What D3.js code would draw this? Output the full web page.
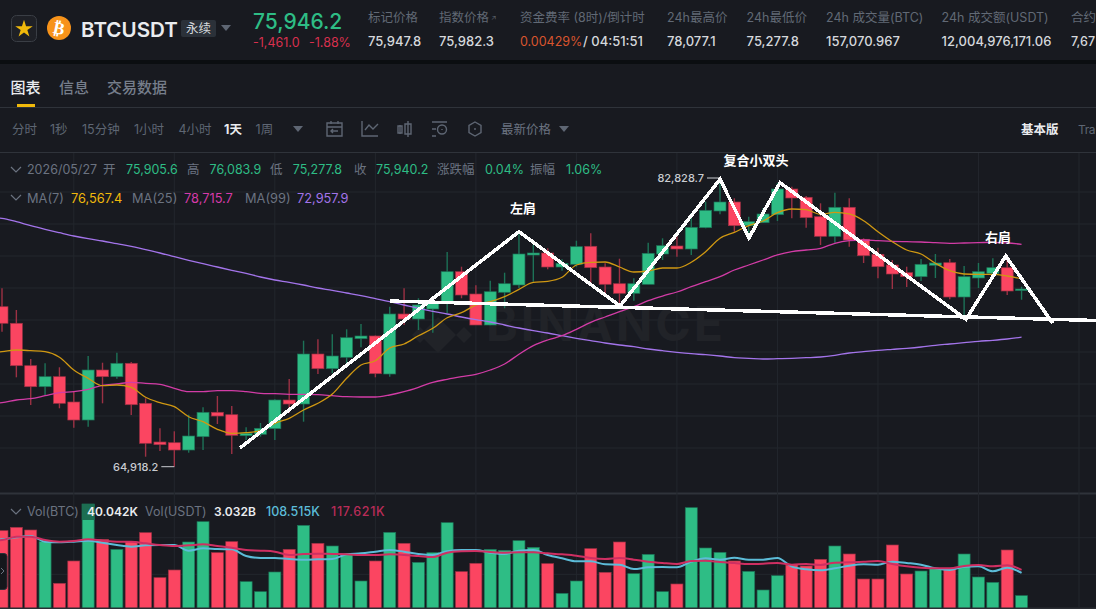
<!DOCTYPE html>
<html>
<head>
<meta charset="utf-8">
<script src="https://cdn.jsdelivr.net/npm/d3@7"></script>
<style>
  html, body { margin: 0; padding: 0; background: #181a20; overflow: hidden; }
  svg { display: block; font-family: Inter, "Noto Sans CJK SC", sans-serif; }
</style>
</head>
<body>
<div id="chart"></div>
<script>
// Candles
const opens = [74844,73815,71184,69881,70502,68932,67815,70917,70502,71333,68851,66450,66407,65954,66779,68293,68144,66841,66928,67276,69056,68808,71910,70998,71705,72859,73027,70669,74392,74081,74702,75074,77016,75632,73709,75738,76191,78052,78176,77307,77475,78592,77307,76271,75676,76234,78114,78610,78424,79746,80782,81340,79870,80056,80552,82146,81631,80428,79212,81011,79026,78095,77432,76954,76706,77413,77574,75446,76625,76916,77264,75905.6];
const highs = [75986,74640,71600,71333,71085,69571,71786,71370,71991,71414,69162,67300,67114,68144,68603,69304,68684,67362,67629,69100,70359,72735,72822,73132,73442,73771,73060,74844,75986,75366,75198,78238,77326,76172,76457,76954,79497,78672,78468,77785,78939,79398,77537,77822,76606,78815,79088,79231,80658,81359,82828.7,81570,80428,80968,82519,82289,81712,81259,81917,81570,79088,78505,77742,77326,77804,78114,77804,77369,77556,77847,78008,76083.9];
const lows = [73293,70464,68746,69366,68541,67338,67400,68851,70378,68125,65538,65892,64918.2,65787,65954,67567,65706,66574,66779,66574,68268,67710,70669,70713,71333,72326,70464,70502,73709,73399,73231,74454,75366,73709,73691,74745,76005,76395,77165,77078,77326,76296,75570,74844,75217,76234,77742,77946,78052,79708,80577,79497,79417,80037,80161,80329,79746,78672,78815,78567,77556,76606,75943,76067,76439,76625,75303,74224,76005,76916,75570,75277.8];
const closes = [73815,71184,69881,70502,68851,67815,70917,70502,71333,68764,66370,66283,65954,66823,68293,68063,66866,66990,67300,69056,68808,71910,70998,71786,72921,73027,70688,74392,74081,74950,75136,77016,75570,73709,75775,76271,78114,78176,77307,77537,78567,77264,76234,75676,76271,78157,78629,78424,79770,80825,81340,79870,80118,80596,82146,81588,80366,79212,81011,78982,78008,77326,76873,76706,77475,77556,75446,76706,77016,77264,75818,75940.2];

// Moving averages on price, first value belongs to the candle just off the left edge
const ma7 = [71991,72053,72158,72115,72053,71705,70917,70402,69943,69987,69844,69224,68889,68640,68020,67710,67238,66990,67027,67151,67611,67921,68436,68851,69428,70402,71228,71494,72282,72530,73045,73504,74162,74472,74950,75155,75465,75924,76358,76420,76668,77432,77599,77618,77307,76997,77059,77245,77245,77599,78257,79088,79460,79870,80161,80676,80906,80862,80577,80701,80596,80180,79497,78877,78362,78114,77537,77078,76873,76854,76854,76749,76567.4];
const ma25 = [68860,68889,69056,69137,69323,69509,69571,69720,69968,70049,70154,70092,70030,69782,69571,69571,69633,69633,69571,69472,69447,69410,69410,69385,69323,69261,69242,69242,69366,69571,69844,70154,70340,70502,70651,70917,71290,71891,72425,72778,73045,73442,73877,74205,74534,74844,75217,75508,75756,76085,76395,76706,77122,77432,77742,78052,78257,78362,78468,78778,78939,78982,78939,78902,78877,78859,78815,78778,78796,78815,78840,78796,78715.7];
const ma99 = [80380,80329,80118,79870,79646,79435,79231,79063,78920,78753,78592,78381,78176,77946,77723,77512,77307,77103,76916,76687,76501,76358,76191,76005,75862,75695,75527,75341,75155,74950,74745,74559,74392,74205,74038,73895,73709,73523,73355,73213,73045,72884,72735,72592,72468,72363,72220,72115,72015,71929,71866,71786,71680,71643,71600,71618,71643,71680,71724,71829,71972,72053,72139,72201,72263,72344,72450,72530,72611,72698,72760,72841,72957.9];

// Volume in thousands of BTC
const volumes = [235,245,237,202,77,144,315,209,179,202,229,94,117,201,262,169,202,82,52,111,179,251,197,189,167,84,144,230,197,140,169,259,112,137,179,176,205,185,136,47,84,181,110,201,106,164,52,75,304,183,170,144,113,57,100,132,129,149,189,165,90,90,192,105,114,122,122,165,96,80,177,40.042];
const volMaBlue = [208,209,215,219,202,200,202,205,199,192,187,191,192,192,175,182,180,179,159,153,153,150,148,149,150,164,167,172,177,172,165,162,173,177,177,169,165,175,177,162,152,143,143,134,133,120,125,126,125,142,152,148,154,148,148,153,127,119,116,122,130,134,133,142,138,133,122,117,127,128,113,124,108.515];
const volMaPink = [205,207,217,217,207,202,204,209,205,202,202,197,192,189,191,194,189,184,177,175,172,162,165,166,165,164,162,162,164,162,159,156,169,173,174,171,169,170,170,167,164,160,153,150,153,148,142,138,135,144,145,141,138,135,136,138,133,135,132,139,140,142,144,135,128,124,122,122,129,132,128,131,117.621];

// Hand drawn pattern lines: [candle index, price]
const patternLine = [[16.57,66078],[36,79497],[43.04,74888],[50,82748],[52.02,79125],[54.18,82537],[67.13,74063],[69.9,77990],[73.17,73815]];
const neckLine = [[27.02,75198],[76.18,73988]];
const patternLabels = [["左肩",36.28,80676],["复合小双头",52.5,83635],["右肩",69.36,78877]];

// Header quote table
const quoteLabels = ["标记价格","指数价格","资金费率 (8时)/倒计时","24h最高价","24h最低价","24h 成交量(BTC)","24h 成交额(USDT)","合约"];
const quoteValues = ["75,947.8","75,982.3","","78,077.1","75,277.8","157,070.967","12,004,976,171.06","7,67"];
const quoteX = [368,439,520,667,746.6,826,941.6,1071];
const tabs = [["图表",10.5],["信息",59],["交易数据",107]];
const intervals = [["分时",12],["1秒",50],["15分钟",82],["1小时",134],["4小时",178.5],["1天",224],["1周",255.6]];

const width = 1096, height = 609;
const GREEN = "#2ebd85", RED = "#fb4561", GREEN_DIM = "#1d7257", RED_DIM = "#9c3144", GRID = "#23272d", LINE = "#2f333a";
const GREY = "#6b7380";

const svg = d3.select("#chart").append("svg").attr("width", width).attr("height", height);

const x = d3.scaleLinear().domain([0, 71]).range([2, 2 + 71 * 14.36]);
const y = d3.scaleLinear().domain([64918.2, 82828.7]).range([466.7, 178]);
const yVol = d3.scaleLinear().domain([0, 357]).range([609, 490]);

function label(text, px, py, color, size, weight, anchor) {
  return svg.append("text")
    .attr("x", px).attr("y", py)
    .attr("fill", color)
    .attr("font-size", size || 13)
    .attr("font-weight", weight || 400)
    .attr("text-anchor", anchor || "start")
    .text(text);
}

function triangle(cx, cy) {
  svg.append("path").attr("d", `M${cx - 5},${cy - 3}L${cx + 5},${cy - 3}L${cx},${cy + 3}Z`).attr("fill", "#5e6673");
}

function chevron(cx, cy) {
  svg.append("path").attr("d", `M${cx - 5},${cy - 2}L${cx},${cy + 3}L${cx + 5},${cy - 2}`)
    .attr("fill", "none").attr("stroke", "#6b7380").attr("stroke-width", 1.2);
}

// page bands
svg.append("rect").attr("width", width).attr("height", height).attr("fill", "#181a20");
svg.append("rect").attr("y", 60).attr("width", width).attr("height", 4).attr("fill", "#0b0e11");
[107, 152, 493].forEach((ly) => {
  svg.append("line").attr("x1", 0).attr("x2", width).attr("y1", ly + 0.5).attr("y2", ly + 0.5)
    .attr("stroke", LINE).attr("stroke-width", ly === 493 ? 2 : 1);
});

// grid
svg.append("g").selectAll("line").data(d3.range(5, 76, 7)).enter().append("line")
  .attr("x1", (d) => x(d)).attr("x2", (d) => x(d)).attr("y1", 153).attr("y2", 607)
  .attr("stroke", GRID);
svg.append("g").selectAll("line").data(d3.range(192, 480, 32).concat([537.7, 574.3])).enter().append("line")
  .attr("x1", 0).attr("x2", width).attr("y1", (d) => d).attr("y2", (d) => d)
  .attr("stroke", GRID);

// watermark
const mark = svg.append("g").attr("fill", "#212328");
mark.append("path").attr("d", "M438,317L456,335L438,353L420,335ZM412,335L420,327L428,335L420,343ZM456,335L464,327L472,335L464,343Z");
mark.append("text").attr("x", 486).attr("y", 341).attr("font-size", 48).attr("font-weight", 700).attr("letter-spacing", 3).text("BINANCE");

// candles
const candles = d3.range(opens.length);
const candleG = svg.append("g");
candleG.selectAll("line").data(candles).enter().append("line")
  .attr("x1", (i) => x(i)).attr("x2", (i) => x(i))
  .attr("y1", (i) => y(highs[i])).attr("y2", (i) => y(lows[i]))
  .attr("stroke", (i) => (closes[i] >= opens[i] ? GREEN_DIM : RED_DIM))
  .attr("stroke-width", 1.4);
candleG.selectAll("rect").data(candles).enter().append("rect")
  .attr("x", (i) => x(i) - 6)
  .attr("width", 12)
  .attr("y", (i) => y(Math.max(opens[i], closes[i])))
  .attr("height", (i) => Math.max(1.5, Math.abs(y(opens[i]) - y(closes[i]))))
  .attr("fill", (i) => (closes[i] >= opens[i] ? GREEN : RED))
  .attr("stroke", (i) => (closes[i] >= opens[i] ? GREEN_DIM : RED_DIM))
  .attr("stroke-width", 0.7);

// moving averages
const priceLine = d3.line().x((d, i) => x(i - 1)).y((d) => y(d)).curve(d3.curveMonotoneX);
[[ma99, "#a374ea"], [ma25, "#d23ca6"], [ma7, "#d09812"]].forEach(([series, color]) => {
  svg.append("path").attr("d", priceLine(series)).attr("fill", "none").attr("stroke", color).attr("stroke-width", 1.3);
});

// volume bars
const volG = svg.append("g");
volG.selectAll("rect").data(candles).enter().append("rect")
  .attr("x", (i) => x(i) - 6)
  .attr("width", 12)
  .attr("y", (i) => yVol(volumes[i]))
  .attr("height", (i) => yVol(0) - yVol(volumes[i]))
  .attr("fill", (i) => (closes[i] >= opens[i] ? GREEN : RED))
  .attr("stroke", (i) => (closes[i] >= opens[i] ? GREEN_DIM : RED_DIM))
  .attr("stroke-width", 0.7);
svg.append("rect").attr("x", x(6) - 6.4).attr("y", yVol(315)).attr("width", 12.8).attr("height", 16)
  .attr("fill", "#1c6e52");
const volLine = d3.line().x((d, i) => x(i - 1)).y((d) => yVol(d)).curve(d3.curveMonotoneX);
[[volMaBlue, "#5cbcd8"], [volMaPink, "#cf2f62"]].forEach(([series, color]) => {
  svg.append("path").attr("d", volLine(series)).attr("fill", "none").attr("stroke", color).attr("stroke-width", 2);
});
svg.append("rect").attr("y", 607.5).attr("width", width).attr("height", 1.5).attr("fill", "#2a2d33");

// high / low marks
const hiIdx = d3.maxIndex(highs), loIdx = d3.minIndex(lows);
[[hiIdx, highs[hiIdx], "82,828.7"], [loIdx, lows[loIdx], "64,918.2"]].forEach(([i, price, text]) => {
  svg.append("line").attr("x1", x(i) - 13).attr("x2", x(i)).attr("y1", y(price)).attr("y2", y(price))
    .attr("stroke", "#c9ccd1");
  label(text, x(i) - 16, y(price) + 4, "#c9ccd1", 11, 500, "end");
});

// white pattern lines
const annotLine = d3.line().x((d) => x(d[0])).y((d) => y(d[1]));
[patternLine, neckLine].forEach((pts) => {
  svg.append("path").attr("d", annotLine(pts)).attr("fill", "none").attr("stroke", "#fff")
    .attr("stroke-width", 3.5).attr("shape-rendering", "crispEdges");
});
patternLabels.forEach(([text, i, price]) => {
  label(text, x(i), y(price), "#fff", 13, 700, "middle");
});

// header
svg.append("rect").attr("x", 11.5).attr("y", 15.5).attr("width", 25).attr("height", 26).attr("rx", 5)
  .attr("fill", "#1e2026").attr("stroke", "#3a3e45");
svg.append("path").attr("transform", "translate(24,29)").attr("fill", "#f0b90b")
  .attr("d", d3.symbol(d3.symbolStar, 95)());
svg.append("circle").attr("cx", 59).attr("cy", 28).attr("r", 12).attr("fill", "#f7931a");
label("₿", 59, 34, "#fff", 17, 700, "middle").attr("font-family", "DejaVu Sans").attr("transform", "rotate(12 59 28)");
label("BTCUSDT", 81, 37, "#eaecef", 20.6, 600);
svg.append("rect").attr("x", 181).attr("y", 20).attr("width", 35).attr("height", 17).attr("rx", 2).attr("fill", "#2b3139");
label("永续", 198.5, 33, "#d5d8dc", 12.5, 400, "middle");
triangle(226, 28);
label("75,946.2", 253, 29, GREEN, 21, 500);
label("-1,461.0", 253, 47, "#d9304e", 12.5);
label("-1.88%", 309, 47, "#d9304e", 12.5);

quoteLabels.forEach((t, i) => label(t, quoteX[i], 22, "#616975", 12.5));
quoteValues.forEach((t, i) => label(t, quoteX[i], 46, "#d5d8dc", i === 7 ? 12.5 : 13, 500));
label("↗", 491, 20, "#616975", 7);
label("0.00429%", 520, 46, "#d9552e", 12.5);
label("/ 04:51:51", 583, 46, "#d5d8dc", 13, 500);

// tabs
tabs.forEach(([t, tx], i) => label(t, tx, 93, i === 0 ? "#eaecef" : "#767e8b", 15, 500));
svg.append("rect").attr("x", 17).attr("y", 104).attr("width", 18).attr("height", 3).attr("fill", "#f0b90b");

// toolbar
intervals.forEach(([t, tx]) => {
  const on = t === "1天";
  label(t, tx, 134, on ? "#eaecef" : "#5e6673", 12.5, on ? 700 : 400);
});
triangle(298, 129);
const icons = svg.append("g").attr("fill", "none").attr("stroke", "#5e6673").attr("stroke-width", 1.4);
icons.append("path").attr("d", "M327,123H342V136H327ZM327,127H342M331,121V124M338,121V124M338,131H331M333,129L331,131L333,133");
icons.append("path").attr("d", "M362,121V136H378M365,130L369,125L373,129L378,124");
icons.append("path").attr("d", "M400,125V134M398,126H402V133H398ZM408,121V137M405,124H411V134H405Z");
icons.append("path").attr("d", "M432,122H447M432,129H436M432,136H436M442,125A4.5,4.5 0 1,0 442,134A4.5,4.5 0 1,0 442,125M442,129V130");
icons.append("path").attr("d", "M475,122L481,125.5V132.5L475,136L469,132.5V125.5ZM475,128V130");
label("最新价格", 501, 134, "#6b7380", 12.5);
triangle(564, 129);
label("基本版", 1021, 134, "#eaecef", 12.5, 600);
label("Tra", 1078, 134, "#5e6673", 12).attr("letter-spacing", -0.4);

// price legend
chevron(16, 169);
[["2026/05/27",27,GREY],["开",103,GREY],["75,905.6",126,GREEN],["高",187,GREY],["76,083.9",209.5,GREEN],["低",270,GREY],["75,277.8",292.7,GREEN],["收",354,GREY],["75,940.2",376,GREEN],["涨跌幅",437,GREY],["0.04%",485,GREEN],["振幅",530,GREY],["1.06%",566,GREEN]]
  .forEach(([t, tx, c]) => label(t, tx, 174, c, 12.5));
chevron(16, 197);
[["MA(7)",27,GREY],["76,567.4",71,"#f0b90b"],["MA(25)",132,GREY],["78,715.7",184,"#d63aaa"],["MA(99)",245,GREY],["72,957.9",297,"#a374ea"]]
  .forEach(([t, tx, c]) => label(t, tx, 203, c, 12.8));

// volume legend
chevron(16, 511);
[["Vol(BTC)",27,GREY,400],["40.042K",87,"#eaecef",600],["Vol(USDT)",145,GREY,400],["3.032B",214,"#eaecef",600],["108.515K",266,"#5cbcd8",500],["117.621K",331,"#b92c58",500]]
  .forEach(([t, tx, c, w]) => {
    label(t, tx, 516, c, w === 600 ? 12 : 12.5, w).attr("letter-spacing", t === "117.621K" ? 0.7 : 0);
  });

// collapsed left handle
svg.append("rect").attr("x", -4).attr("y", 553.5).attr("width", 11).attr("height", 36).attr("rx", 3)
  .attr("fill", "#15171c").attr("stroke", "#2b2f36");
svg.append("path").attr("d", "M1,568L4,571L1,574").attr("fill", "none").attr("stroke", "#6b7380");
</script>
</body>
</html>
